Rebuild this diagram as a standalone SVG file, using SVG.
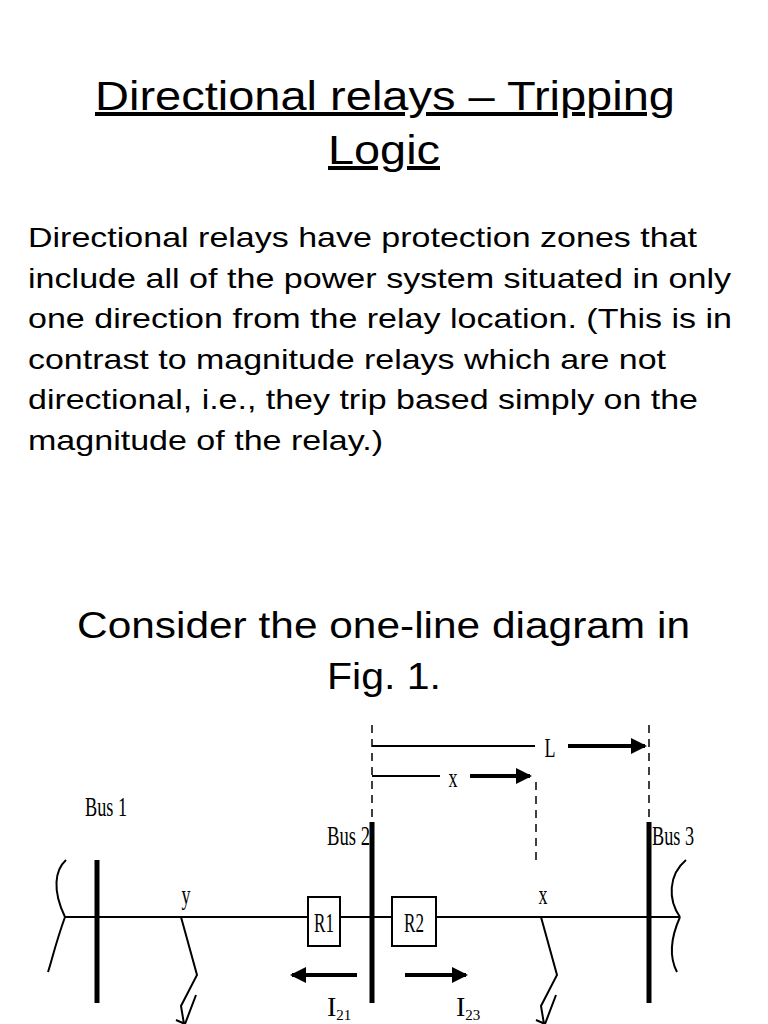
<svg xmlns="http://www.w3.org/2000/svg" width="768" height="1024" viewBox="0 0 768 1024">
<style>
.t{font-family:"Liberation Sans",Arial,sans-serif;fill:#000}
.s{font-family:"Liberation Serif","Times New Roman",serif;fill:#000;font-size:28px}
.bus{stroke:#000;stroke-width:5}
.ln{stroke:#000;stroke-width:2;fill:none}
.d{stroke:#000;stroke-width:1.5;stroke-dasharray:8,6}
.a{stroke:#000;stroke-width:4;fill:none}
</style>
<defs>
<marker id="ah2" markerWidth="4" markerHeight="4" refX="3.5" refY="2" orient="auto" markerUnits="strokeWidth"><path d="M0,0L4,2L0,4z" fill="#000"/></marker>
</defs>
<rect width="768" height="1024" fill="#fff"/>
<text class="t" x="95" y="110" font-size="40" textLength="580" lengthAdjust="spacingAndGlyphs" text-decoration="underline">Directional relays – Tripping</text>
<text class="t" x="328" y="164" font-size="40" textLength="112" lengthAdjust="spacingAndGlyphs" text-decoration="underline">Logic</text>
<g class="t" font-size="28">
<text x="28" y="247" textLength="669" lengthAdjust="spacingAndGlyphs">Directional relays have protection zones that</text>
<text x="28" y="288" textLength="703" lengthAdjust="spacingAndGlyphs">include all of the power system situated in only</text>
<text x="28" y="328" textLength="704" lengthAdjust="spacingAndGlyphs">one direction from the relay location. (This is in</text>
<text x="28" y="369" textLength="638" lengthAdjust="spacingAndGlyphs">contrast to magnitude relays which are not</text>
<text x="28" y="409" textLength="670" lengthAdjust="spacingAndGlyphs">directional, i.e., they trip based simply on the</text>
<text x="28" y="450" textLength="355" lengthAdjust="spacingAndGlyphs">magnitude of the relay.)</text>
</g>
<text class="t" x="77" y="638" font-size="36" textLength="613" lengthAdjust="spacingAndGlyphs">Consider the one-line diagram in</text>
<text class="t" x="327" y="689" font-size="36" textLength="114" lengthAdjust="spacingAndGlyphs">Fig. 1.</text>

<g id="connectors">
<line class="ln" x1="65" y1="917" x2="680" y2="917"/>
<line class="d" x1="372" y1="725" x2="372" y2="822"/>
<line class="d" x1="649" y1="725" x2="649" y2="822"/>
<line class="d" x1="536" y1="782" x2="536" y2="862"/>
<line stroke="#000" stroke-width="2" x1="372" y1="746" x2="535" y2="746"/>
<line class="a" x1="568" y1="746" x2="645" y2="746" marker-end="url(#ah2)"/>
<line stroke="#000" stroke-width="2" x1="372" y1="776" x2="440" y2="776"/>
<line class="a" x1="470" y1="776" x2="530" y2="776" marker-end="url(#ah2)"/>
<line class="a" x1="357" y1="975" x2="292" y2="975" marker-end="url(#ah2)"/>
<line class="a" x1="405" y1="975" x2="466" y2="975" marker-end="url(#ah2)"/>
<path class="ln" stroke-width="1.5" d="M181,917 L197,975 L181,1006 L184,1024 M176,1020 L185,1024 L196,995"/>
<path class="ln" stroke-width="1.5" d="M541,917 L557,975 L541,1006 L544,1024 M536,1020 L545,1024 L556,995"/>
<path class="ln" stroke-width="1.5" d="M65,917 C52,890 55,870 66,860 M65,917 C55,945 52,960 48,972"/>
<path class="ln" stroke-width="1.5" d="M680,917 C668,900 668,875 686,860 M680,917 C672,935 668,955 677,972"/>
</g>
<g id="bus1"><line class="bus" x1="97" y1="860" x2="97" y2="1003"/><text class="s" x="85" y="816" textLength="42" lengthAdjust="spacingAndGlyphs">Bus 1</text></g>
<g id="bus2"><line class="bus" x1="372" y1="822" x2="372" y2="1003"/><text class="s" x="327" y="845" textLength="43" lengthAdjust="spacingAndGlyphs">Bus 2</text></g>
<g id="bus3"><line class="bus" x1="649" y1="822" x2="649" y2="1003"/><text class="s" x="652" y="845" textLength="42" lengthAdjust="spacingAndGlyphs">Bus 3</text></g>
<g id="r1"><rect x="308" y="897" width="32" height="49" fill="#fff" stroke="#000" stroke-width="2"/><text class="s" x="324" y="932" text-anchor="middle" textLength="20" lengthAdjust="spacingAndGlyphs">R1</text></g>
<g id="r2"><rect x="392" y="897" width="44" height="49" fill="#fff" stroke="#000" stroke-width="2"/><text class="s" x="414" y="932" text-anchor="middle" textLength="20" lengthAdjust="spacingAndGlyphs">R2</text></g>
<text class="s" x="550" y="757" text-anchor="middle" textLength="11" lengthAdjust="spacingAndGlyphs">L</text>
<text class="s" x="453" y="787" text-anchor="middle" textLength="9" lengthAdjust="spacingAndGlyphs">x</text>
<text class="s" x="186" y="904" text-anchor="middle" textLength="9" lengthAdjust="spacingAndGlyphs">y</text>
<text class="s" x="543" y="904" text-anchor="middle" textLength="9" lengthAdjust="spacingAndGlyphs">x</text>
<text class="s" x="327" y="1016">I<tspan font-size="15" dy="4">21</tspan></text>
<text class="s" x="456" y="1016">I<tspan font-size="15" dy="4">23</tspan></text>
</svg>
